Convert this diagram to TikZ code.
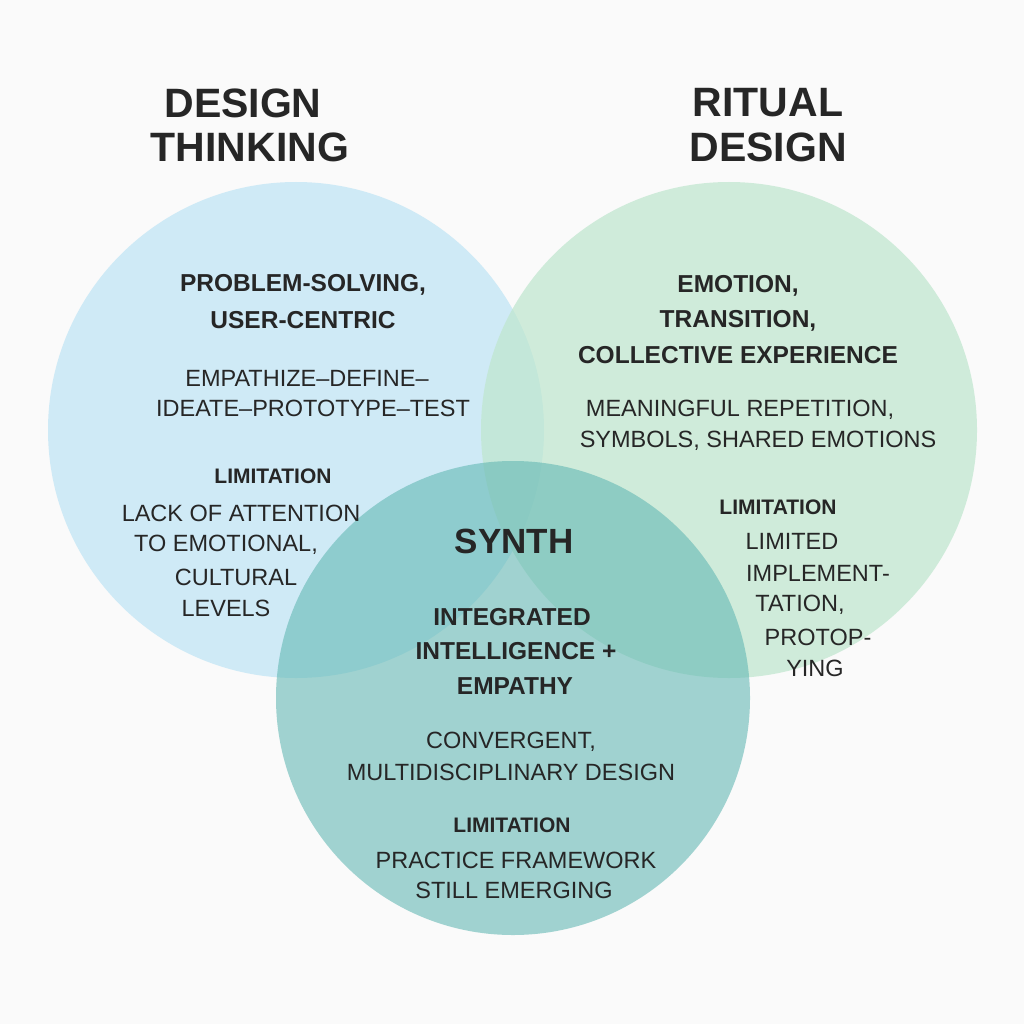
\documentclass[tikz,border=0pt]{standalone}
\usepackage{fontspec}
\setmainfont{Liberation Sans}
\begin{document}
\begin{tikzpicture}[x=1pt,y=-1pt,
  ttl/.style={font=\fontsize{41}{43}\selectfont\bfseries,text=black!85},
  hd/.style={font=\fontsize{24.5}{26}\selectfont\bfseries,text=black!85},
  bd/.style={font=\fontsize{23.5}{25}\selectfont,text=black!85},
  lim/.style={font=\fontsize{21}{23}\selectfont\bfseries,text=black!85}]
\fill[white!98!black] (0,0) rectangle (1024,1024);
\useasboundingbox (0,0) rectangle (1024,1024);
\fill[fill={rgb,255:red,190;green,228;blue,245},opacity=0.7] (296,430) circle (248);
\fill[fill={rgb,255:red,190;green,230;blue,205},opacity=0.7] (729,430) circle (248);
\fill[fill={rgb,255:red,100;green,184;blue,180},opacity=0.6] (513,698) circle (237);
\node[ttl] (t1a) at (243,103) {DESIGN};
\node[ttl] (t1b) at (250,147) {THINKING};
\node[ttl] (t2a) at (768,103) {RITUAL};
\node[ttl] (t2b) at (768,147) {DESIGN};
\node[hd] (a1) at (303,285) {PROBLEM-SOLVING,};
\node[hd] (a2) at (303,320) {USER-CENTRIC};
\node[bd] (a3) at (307,378) {EMPATHIZE–DEFINE–};
\node[bd] (a4) at (313,408) {IDEATE–PROTOTYPE–TEST};
\node[lim] (a5) at (273,476) {LIMITATION};
\node[bd] (a6) at (241,513) {LACK OF ATTENTION};
\node[bd] (a7) at (226,545) {TO EMOTIONAL,};
\node[bd] (a8) at (236,577) {CULTURAL};
\node[bd] (a9) at (226,608) {LEVELS};
\node[hd] (b1) at (738,286) {EMOTION,};
\node[hd] (b2) at (738,321) {TRANSITION,};
\node[hd] (b3) at (738,355) {COLLECTIVE EXPERIENCE};
\node[bd] (b4) at (740,410) {MEANINGFUL REPETITION,};
\node[bd] (b5) at (758,441) {SYMBOLS, SHARED EMOTIONS};
\node[lim] (b6) at (778,507) {LIMITATION};
\node[bd] (b7) at (792,541) {LIMITED};
\node[bd] (b8) at (818,573) {IMPLEMENT-};
\node[bd] (b9) at (800,605) {TATION,};
\node[bd] (b10) at (818,637) {PROTOP-};
\node[bd] (b11) at (815,668) {YING};
\node[font=\fontsize{35}{37}\selectfont\bfseries,text=black!85] (c0) at (514,541) {SYNTH};
\node[hd] (c1) at (512,617) {INTEGRATED};
\node[hd] (c2) at (516,651) {INTELLIGENCE +};
\node[hd] (c3) at (515,686) {EMPATHY};
\node[bd] (c4) at (511,742) {CONVERGENT,};
\node[bd] (c5) at (511,772) {MULTIDISCIPLINARY DESIGN};
\node[lim] (c6) at (512,825) {LIMITATION};
\node[bd] (c7) at (516,860) {PRACTICE FRAMEWORK};
\node[bd] (c8) at (514,890) {STILL EMERGING};
\end{tikzpicture}
\end{document}
